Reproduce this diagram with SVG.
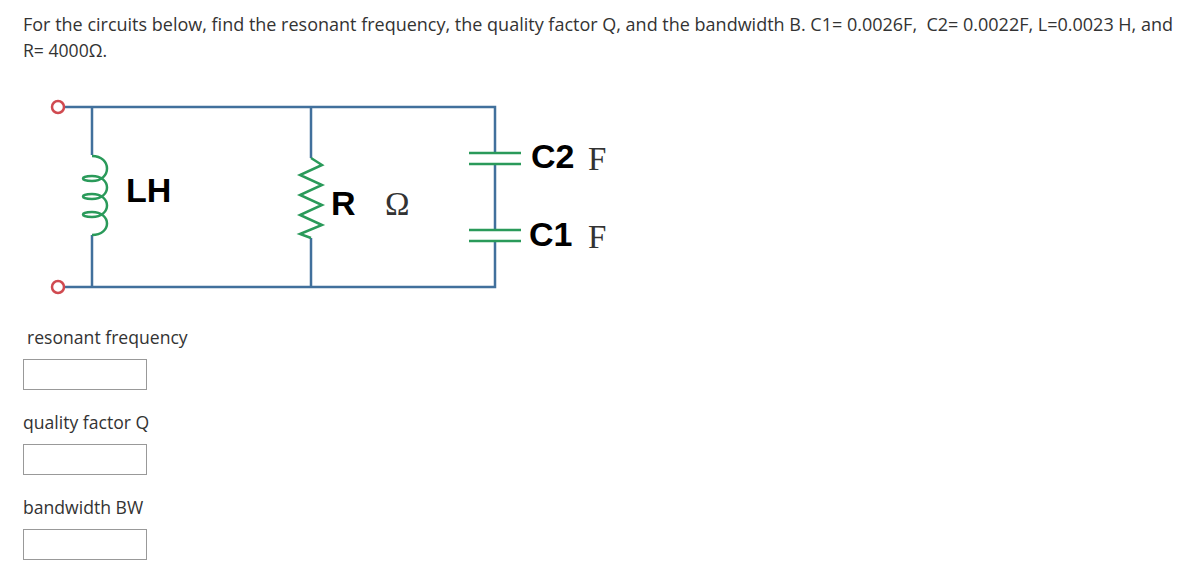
<svg xmlns="http://www.w3.org/2000/svg" width="1191" height="584" viewBox="0 0 1191 584">
<style>
.t{font-family:"Open Sans",sans-serif;font-size:17.6px;fill:#333}
.w{stroke:#41709c;stroke-width:2.5;fill:none}
.g{stroke:#2a9a5a;stroke-width:2.5;fill:none}
.lb{font-family:"Liberation Sans",Arial,sans-serif;font-weight:bold;font-size:34px;fill:#000}
.sf{font-family:"Liberation Serif",serif;font-size:33px;fill:#333}
.box{fill:#fff;stroke:#999;stroke-width:1}
</style>
<rect width="1191" height="584" fill="#fff"/>
<text class="t" x="23" y="31" xml:space="preserve" textLength="1150" lengthAdjust="spacingAndGlyphs">For the circuits below, find the resonant frequency, the quality factor Q, and the bandwidth B. C1= 0.0026F,  C2= 0.0022F, L=0.0023 H, and</text>
<text class="t" x="23" y="57">R= 4000Ω.</text>
<g id="connectors">
<path class="w" d="M64 107H495V153M495 164V230M495 241V287H64M92 107V155M92 235V287M311 107V158M311 238V287"/>
</g>
<g id="terminals">
<circle cx="58" cy="107" r="6" fill="#fff" stroke="#d04a50" stroke-width="2.5"/>
<circle cx="58" cy="287" r="6" fill="#fff" stroke="#d04a50" stroke-width="2.5"/>
</g>
<g id="L">
<path class="g" d="M92 156C112 156 112 181 92 181C80 181 80 176 92 176C112 176 112 199 92 199C80 199 80 194 92 194C112 194 112 217 92 217C80 217 80 212 92 212C112 212 112 235 92 235"/>
<text class="lb" x="126" y="202">LH</text>
</g>
<g id="R">
<path class="g" d="M311 158L322 165L300 175L322 185L300 195L322 205L300 215L322 225L300 234L311 238"/>
<text class="lb" x="331" y="215">R</text>
<text class="sf" x="385" y="215">Ω</text>
</g>
<g id="C2">
<path class="g" d="M469 153H521M469 164H521"/>
<text class="lb" x="531" y="168">C2</text>
<text class="sf" x="588" y="170">F</text>
</g>
<g id="C1">
<path class="g" d="M469 230H521M469 241H521"/>
<text class="lb" x="529" y="246">C1</text>
<text class="sf" x="588" y="248">F</text>
</g>
<text class="t" x="27" y="344">resonant frequency</text>
<rect class="box" x="23.500" y="359.500" width="123" height="30"/>
<text class="t" x="23" y="429">quality factor Q</text>
<rect class="box" x="23.500" y="444.500" width="123" height="30"/>
<text class="t" x="23" y="514">bandwidth BW</text>
<rect class="box" x="23.500" y="529.500" width="123" height="30"/>
</svg>
